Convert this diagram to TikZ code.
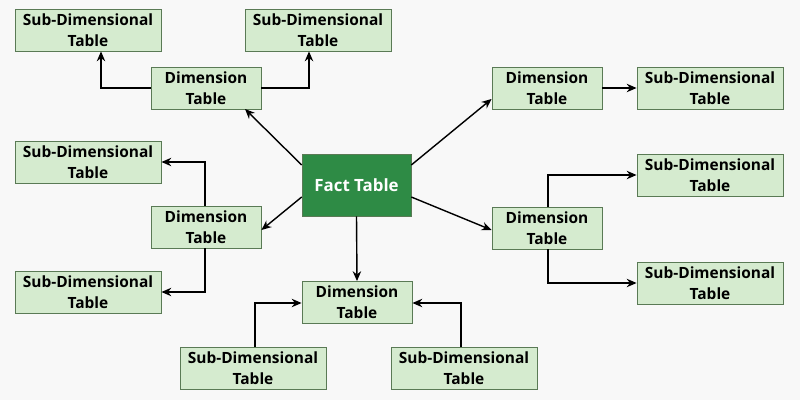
\documentclass[tikz,border=0pt]{standalone}
\usepackage{fontspec}
\setmainfont{Open Sans}
\usetikzlibrary{arrows.meta}
\definecolor{bg}{HTML}{F8F8F8}
\definecolor{boxfill}{HTML}{D5EBCF}
\definecolor{boxline}{HTML}{5A7A55}
\definecolor{factfill}{HTML}{2E8B45}
\tikzset{
  box/.style={draw=boxline,fill=boxfill,line width=0.6pt,align=center,font=\fontsize{11}{15}\selectfont\bfseries,inner sep=0pt,minimum height=1.05cm},
  sub/.style={box,minimum width=3.65cm},
  dim/.style={box,minimum width=2.75cm},
  fact/.style={draw=boxline,fill=factfill,text=white,font=\fontsize{12}{14}\selectfont\bfseries,minimum width=2.725cm,minimum height=1.55cm,inner sep=0pt},
  arr/.style={-{Stealth[length=7pt,width=6pt]},line width=1pt,black}
}
\begin{document}
\begin{tikzpicture}[x=0.025cm,y=-0.025cm]
\fill[bg] (0,0) rectangle (800,400);
\useasboundingbox (0,0) rectangle (800,400);
\node[fact] (f) at (356.5,185) {Fact Table};
\node[dim] (dtl) at (206,88) {Dimension\\Table};
\node[dim] (drt) at (547,88) {Dimension\\Table};
\node[dim] (dl) at (206,227) {Dimension\\Table};
\node[dim] (dr) at (547,228) {Dimension\\Table};
\node[dim] (db) at (357,302.5) {Dimension\\Table};
\node[sub] (s1) at (88,30) {Sub-Dimensional\\Table};
\node[sub] (s2) at (318,30) {Sub-Dimensional\\Table};
\node[sub] (s3) at (710,88) {Sub-Dimensional\\Table};
\node[sub] (s4) at (88,162.5) {Sub-Dimensional\\Table};
\node[sub] (s5) at (88,292) {Sub-Dimensional\\Table};
\node[sub] (s6) at (710,175) {Sub-Dimensional\\Table};
\node[sub] (s7) at (710,283.5) {Sub-Dimensional\\Table};
\node[sub] (s8) at (253,368) {Sub-Dimensional\\Table};
\node[sub] (s9) at (464,368) {Sub-Dimensional\\Table};
\coordinate (c1) at (101,88);
\coordinate (c2) at (309,88);
\draw[arr] (dtl.west) -- (c1) -- (s1.south -| c1);
\draw[arr] (dtl.east) -- (c2) -- (s2.south -| c2);
\draw[arr] (f.west |- 0,165) -- (245,109);
\draw[arr] (f.east |- 0,165) -- (drt.south west |- 0,99);
\draw[arr] (drt.east) -- (s3.west);
\draw[arr] (f.west |- 0,197) -- (dl.east |- 0,230);
\coordinate (c3) at (205,162);
\coordinate (c4) at (205,292);
\draw[arr] (dl.north -| c3) -- (c3) -- (s4.east |- c3);
\draw[arr] (dl.south -| c4) -- (c4) -- (s5.east |- c4);
\draw[arr] (f.east |- 0,197) -- (dr.west |- 0,230);
\coordinate (c5) at (548,175);
\coordinate (c6) at (548,283);
\draw[arr] (dr.north -| c5) -- (c5) -- (s6.west |- c5);
\draw[arr] (dr.south -| c6) -- (c6) -- (s7.west |- c6);
\draw[arr] (f.south) -- (db.north);
\coordinate (c7) at (255,303);
\coordinate (c8) at (461,303);
\draw[arr] (s8.north -| c7) -- (c7) -- (db.west |- c7);
\draw[arr] (s9.north -| c8) -- (c8) -- (db.east |- c8);
\end{tikzpicture}
\end{document}
